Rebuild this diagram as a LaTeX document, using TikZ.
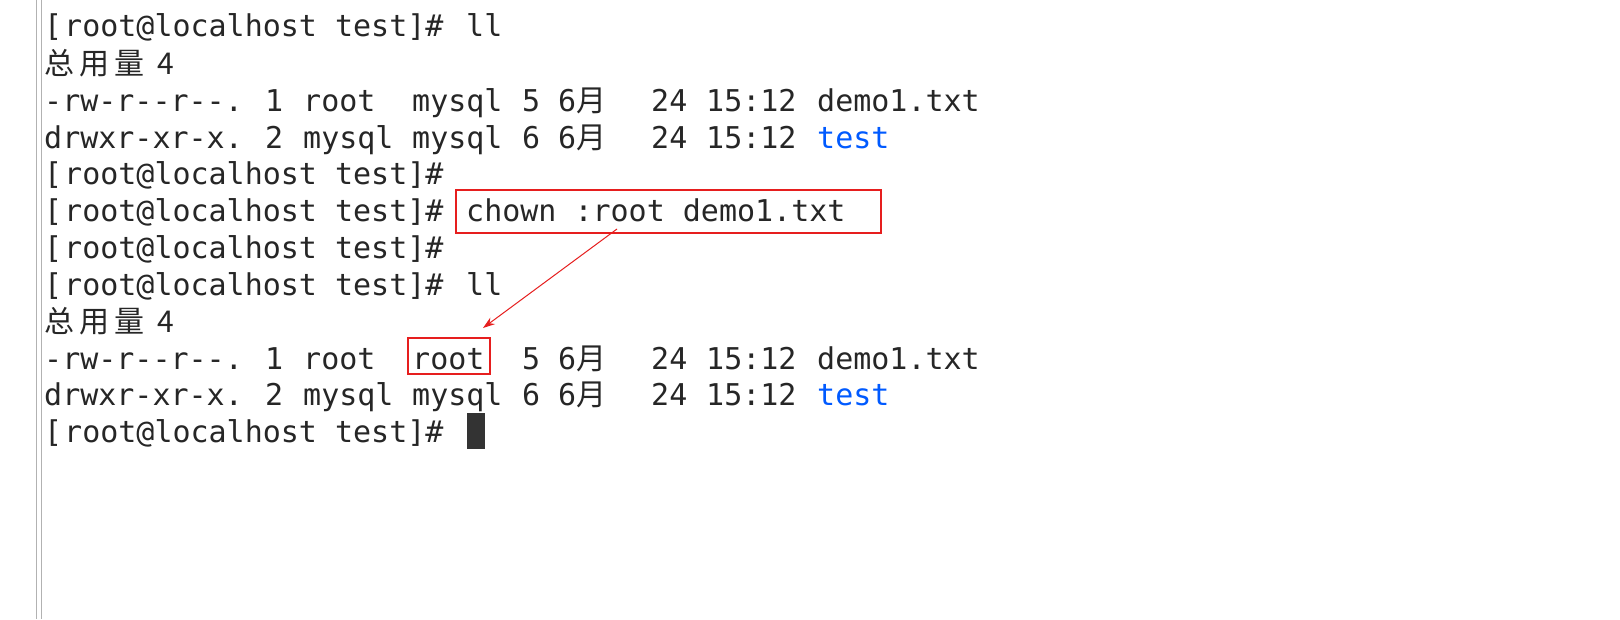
\documentclass[tikz,border=0pt]{standalone}
\usepackage{fontspec}
\setmonofont{DejaVu Sans Mono}
\newfontfamily\cjk{Noto Sans CJK SC}
\definecolor{myred}{RGB}{230,30,30}
\definecolor{myblue}{RGB}{0,90,255}
\usetikzlibrary{arrows.meta}
\begin{document}
\begin{tikzpicture}[x=1pt,y=-1pt,
  t/.style={anchor=base west,inner sep=0pt,font=\fontsize{30}{31}\selectfont\ttfamily,text=black!85},
  blu/.style={t,text=myblue},
  redbox/.style={draw=myred,line width=1.5pt}]
\useasboundingbox (0,0) rectangle (1620,619);
\fill[white] (0,0) rectangle (1620,619);
\draw[gray!60,line width=1pt] (36,0) -- (36,619);
\draw[gray!60,line width=1pt] (41,0) -- (41,619);
\foreach \y/\n in {36/p1,184/p2,221/p3,258/p4,295/p5,442/p6}{
  \node[t] (\n) at (44,\y) {[};
  \node[t] (\n r) at (64,\y) {root@localhost test]\#};
}
\node[t] (ll1) at (466,36) {ll};
\node[t] (ll2) at (466,295) {ll};
\node[t] (cmd) at (466,221) {chown :root demo1.txt};
\node[t] (tot1) at (44,74) {\cjk 总\,用\,量\ \ 4};
\node[t] (tot2) at (44,332) {\cjk 总\,用\,量\ \ 4};
\foreach \y/\k/\p/\c/\o/\g/\s/\f/\b in {
 111/a/{-rw-r--r--.}/1/root/mysql/5/demo1.txt/0,
 148/b/{drwxr-xr-x.}/2/mysql/mysql/6/test/1,
 369/c/{-rw-r--r--.}/1/root/root/5/demo1.txt/0,
 405/d/{drwxr-xr-x.}/2/mysql/mysql/6/test/1}{
  \node[t] (\k p) at (44,\y) {\p};
  \node[t] (\k c) at (265,\y) {\c};
  \node[t] (\k o) at (303,\y) {\o};
  \node[t] (\k g) at (412,\y) {\g};
  \node[t] (\k s) at (522,\y) {\s};
  \node[t] (\k m) at (558,\y) {6{\cjk 月}};
  \node[t] (\k d) at (651,\y) {24};
  \node[t] (\k h) at (706,\y) {15:12};
  \ifnum\b=1 \node[blu] (\k f) at (817,\y) {\f};
  \else \node[t] (\k f) at (817,\y) {\f}; \fi
}
\node[redbox,minimum width=425,minimum height=43,inner sep=0pt] (cbox) at (668.5,211.5) {};
\node[redbox,minimum width=82,minimum height=36,inner sep=0pt] (rbox) at (449,356) {};
\coordinate (as) at (617,229);
\draw[myred,line width=1pt,-{Stealth[length=12pt,width=8pt]}] (as) -- (483,328);
\fill[black!80] (467,413) rectangle (485,449);
\end{tikzpicture}
\end{document}
